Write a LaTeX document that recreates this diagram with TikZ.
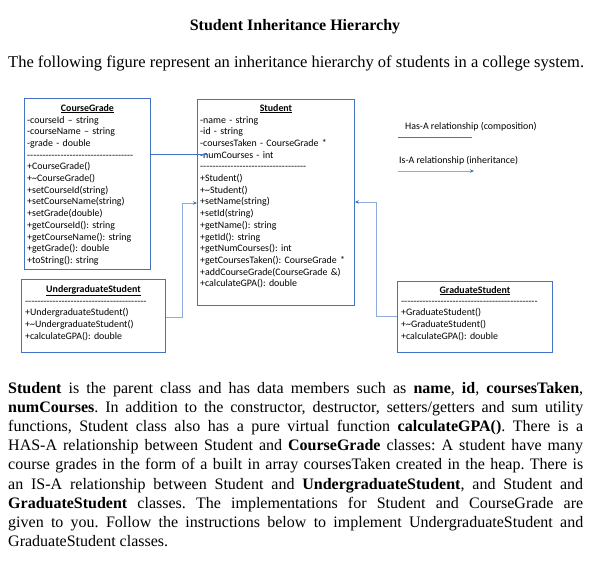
\documentclass[tikz,border=0pt]{standalone}
\usepackage{fontspec}
\setmainfont{Liberation Serif}
\newfontfamily\umlfont[Ligatures=TeXOff]{Carlito}
\usepackage{xcolor}
\usetikzlibrary{arrows.meta,positioning,calc}
\definecolor{umlblue}{HTML}{4472C4}
\definecolor{isablue}{HTML}{8FAADC}
\newcommand{\sepline}[1]{\foreach \k in {1,...,#1}{-}}
\newcommand{\cname}[1]{\underline{\textbf{#1}}}
\frenchspacing

\begin{document}
\begin{tikzpicture}[
  x=1pt, y=-1pt, >=Stealth,
  umlbox/.style={draw=umlblue, line width=0.9pt, anchor=north west, inner sep=0pt},
  umltitle/.style={font=\umlfont\fontsize{9.9}{11.7}\selectfont, anchor=base, inner sep=0pt},
  umlbody/.style={font=\umlfont\fontsize{9.9}{11.7}\selectfont, anchor=base west,
                  align=left, inner sep=0pt},
  hasa/.style={umlblue, line width=0.9pt},
  isa/.style={-{Stealth[length=4pt,width=3.5pt,color=umlblue]}, isablue, line width=0.9pt},
  legend/.style={font=\umlfont\fontsize{9.9}{11}\selectfont, anchor=base west, inner sep=0pt}
]
  \useasboundingbox (0,0) rectangle (591,560);
  % heading
  \node[font=\fontsize{16}{19}\selectfont\bfseries, anchor=base] (title) at (295,30)
    {Student Inheritance Hierarchy};
  \node[font=\fontsize{16.5}{19}\selectfont, anchor=base west, inner sep=0pt] (intro) at (8,67)
    {The following figure represent an inheritance hierarchy of students in a college system.};
  % CourseGrade
  \node[umlbox, minimum width=126pt, minimum height=171pt] (cg) at (24,98) {};
  \node[umltitle] (cgname) at ($(cg.north)+(0,13)$) {\cname{CourseGrade}};
  \node[umlbody, text width=120pt] (cgbody) at ($(cg.north west)+(3,25)$) {%
    -courseId – string\\ -courseName – string\\ -grade - double\\ \sepline{35}\\
    +CourseGrade()\\ +\textasciitilde CourseGrade()\\ +setCourseId(string)\\
    +setCourseName(string)\\ +setGrade(double)\\ +getCourseId(): string\\
    +getCourseName(): string\\ +getGrade(): double\\ +toString(): string};
  % Student
  \node[umlbox, minimum width=157pt, minimum height=206pt] (st) at (197,99) {};
  \node[umltitle] (stname) at ($(st.north)+(0,12)$) {\cname{Student}};
  \node[umlbody, text width=151pt] (stbody) at ($(st.north west)+(3,24)$) {%
    -name - string\\ -id - string\\ -coursesTaken - CourseGrade *\\ -numCourses - int\\
    \sepline{35}\\ +Student()\\ +\textasciitilde Student()\\ +setName(string)\\
    +setId(string)\\ +getName(): string\\ +getId(): string\\ +getNumCourses(): int\\
    +getCoursesTaken(): CourseGrade *\\ +addCourseGrade(CourseGrade \&)\\
    +calculateGPA(): double};
  % UndergraduateStudent
  \node[umlbox, minimum width=144pt, minimum height=73pt] (ug) at (21,279) {};
  \node[umltitle] (ugname) at ($(ug.north)+(0,13)$) {\cname{UndergraduateStudent}};
  \node[umlbody, text width=138pt] (ugbody) at ($(ug.north west)+(4,25)$) {%
    \sepline{40}\\ +UndergraduateStudent()\\ +\textasciitilde UndergraduateStudent()\\
    +calculateGPA(): double};
  % GraduateStudent
  \node[umlbox, minimum width=155pt, minimum height=71pt] (gs) at (397,281) {};
  \node[umltitle] (gsname) at ($(gs.north)+(0,12)$) {\cname{GraduateStudent}};
  \node[umlbody, text width=149pt] (gsbody) at ($(gs.north west)+(4,23)$) {%
    \sepline{45}\\ +GraduateStudent()\\ +\textasciitilde GraduateStudent()\\
    +calculateGPA(): double};
  % has-a
  \coordinate (cgout) at ($(cg.north east)+(0,56)$);
  \draw[hasa] (cgout) -- ($(st.west |- cgout)+(11,0)$);
  % is-a
  \coordinate (ugout) at ($(ug.north east)+(0,38)$);
  \coordinate (stin1) at ($(st.north west)+(0,104)$);
  \draw[isa] (ugout) -- ++(17,0) |- (stin1);
  \coordinate (gsout) at ($(gs.north west)+(0,35)$);
  \coordinate (stin2) at ($(st.north east)+(0,103)$);
  \draw[isa] (gsout) -- ++(-21,0) |- (stin2);
  % legend
  \node[legend] (hasatext) at (405,129) {Has-A relationship (composition)};
  \coordinate (hasaL) at (398,137); \coordinate (hasaR) at (472,137);
  \draw[hasa] (hasaL) -- (hasaR);
  \node[legend] (isatext) at (399,163) {Is-A relationship (inheritance)};
  \coordinate (isaL) at (398,171); \coordinate (isaR) at (474,171);
  \draw[isa] (isaL) -- (isaR);
  % description
  \node[font=\fontsize{16}{19.2}\selectfont, anchor=base west, text width=575pt,
        align=justify, inner sep=0pt] (desc) at (8,393) {%
    \textbf{Student} is the parent class and has data members such as \textbf{name},
    \textbf{id}, \textbf{coursesTaken},\linebreak
    \textbf{numCourses}. In addition to the constructor, destructor, setters/getters and sum
    utility\linebreak
    functions, Student class also has a pure virtual function \textbf{calculateGPA()}. There
    is a\linebreak
    HAS-A relationship between Student and \textbf{CourseGrade} classes: A student have
    many\linebreak
    course grades in the form of a built in array coursesTaken created in the heap. There
    is\linebreak
    an IS-A relationship between Student and \textbf{UndergraduateStudent}, and Student
    and\linebreak
    \textbf{GraduateStudent} classes. The implementations for Student and CourseGrade
    are\linebreak
    given to you. Follow the instructions below to implement UndergraduateStudent
    and\linebreak
    GraduateStudent classes.};
\end{tikzpicture}
\end{document}
